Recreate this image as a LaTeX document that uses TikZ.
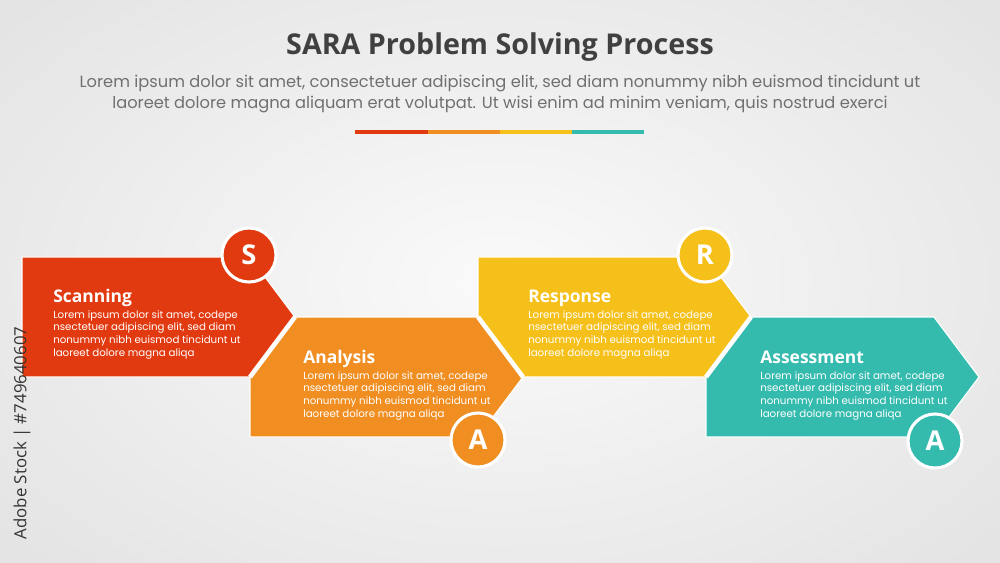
\documentclass[tikz,border=0pt]{standalone}
\usepackage{fontspec}
\setmainfont{Poppins}
\newfontfamily\headfont{Open Sans}
\definecolor{cRed}{RGB}{226,58,16}
\definecolor{cOrange}{RGB}{240,142,34}
\definecolor{cYellow}{RGB}{246,192,27}
\definecolor{cTeal}{RGB}{53,186,174}
\definecolor{titlegray}{RGB}{64,64,64}
\definecolor{subgray}{RGB}{112,112,112}
\definecolor{bgin}{RGB}{250,250,250}
\definecolor{bgout}{RGB}{228,228,228}
\tikzset{
  shapebox/.style={fill=#1, draw=white, line width=0.9pt, line join=miter},
  gapline/.style={draw=white, line width=3.4pt},
  badge/.style={circle, fill=#1, draw=white, line width=2.3pt, minimum size=40.5pt, inner sep=0pt,
    text=white, font=\headfont\bfseries\fontsize{20.5}{21}\selectfont},
  headtxt/.style={anchor=base west, inner sep=0pt, text=white, font=\headfont\bfseries\fontsize{13.1}{14}\selectfont},
  bodytxt/.style={anchor=base west, inner sep=0pt, align=left, text=white, font=\fontsize{7.7}{9.45}\selectfont},
  barseg/.style={draw=#1, line width=3pt},
}
\begin{document}
\begin{tikzpicture}[x=0.75pt, y=-0.75pt]
\useasboundingbox (0,0) rectangle (1000,563);
\shade[inner color=bgin, outer color=bgout] (-150,-120) rectangle (1150,683);
% title
\node[inner sep=0pt, anchor=base, text=titlegray, font=\headfont\bfseries\fontsize{21.5}{24}\selectfont] (title) at (500,55) {SARA Problem Solving Process};
\node[inner sep=0pt, anchor=base, align=center, text=subgray, font=\fontsize{12.2}{15.4}\selectfont] (subtitle) at (500,108.5)
  {Lorem ipsum dolor sit amet, consectetuer adipiscing elit, sed diam nonummy nibh euismod tincidunt ut\\
   laoreet dolore magna aliquam erat volutpat. Ut wisi enim ad minim veniam, quis nostrud exerci};
% color bar
\coordinate (b0) at (355,132);
\coordinate (b1) at (428,132);
\coordinate (b2) at (500,132);
\coordinate (b3) at (572,132);
\coordinate (b4) at (644,132);
\draw[barseg=cRed] (b0) -- (b1);
\draw[barseg=cOrange] (b1) -- (b2);
\draw[barseg=cYellow] (b2) -- (b3);
\draw[barseg=cTeal] (b3) -- (b4);
% shapes
\filldraw[shapebox=cRed] (22,257) -- (250,257) -- (295,317) -- (250,377) -- (22,377) -- cycle;
\filldraw[shapebox=cOrange] (250,437) -- (250,377) -- (295,317) -- (478,317) -- (523,377) -- (478,437) -- cycle;
\filldraw[shapebox=cYellow] (478,257) -- (706,257) -- (751,317) -- (706,377) -- (523,377) -- (478,317) -- cycle;
\filldraw[shapebox=cTeal] (706,437) -- (706,377) -- (751,317) -- (934,317) -- (979,377) -- (934,437) -- cycle;
% white gaps between neighbouring shapes
\coordinate (g1a) at (250,377); \coordinate (g1b) at (295,317);
\coordinate (g2a) at (478,317); \coordinate (g2b) at (523,377);
\coordinate (g3a) at (706,377); \coordinate (g3b) at (751,317);
\draw[gapline] (g1a) -- (g1b);
\draw[gapline] (g2a) -- (g2b);
\draw[gapline] (g3a) -- (g3b);
% badges
\node[badge=cRed] (bS) at (249,255) {S};
\node[badge=cYellow] (bR) at (705,255) {R};
\node[badge=cOrange] (bA1) at (478,440) {A};
\node[badge=cTeal] (bA2) at (935,441) {A};
% texts
\node[headtxt] (h1) at (53,302) {Scanning};
\node[bodytxt] (t1) at (53,356) {Lorem ipsum dolor sit amet, codepe\\nsectetuer adipiscing elit, sed diam\\nonummy nibh euismod tincidunt ut\\laoreet dolore magna aliqa};
\node[headtxt] (h2) at (303,363) {Analysis};
\node[bodytxt] (t2) at (303,417) {Lorem ipsum dolor sit amet, codepe\\nsectetuer adipiscing elit, sed diam\\nonummy nibh euismod tincidunt ut\\laoreet dolore magna aliqa};
\node[headtxt] (h3) at (528,302) {Response};
\node[bodytxt] (t3) at (528,356) {Lorem ipsum dolor sit amet, codepe\\nsectetuer adipiscing elit, sed diam\\nonummy nibh euismod tincidunt ut\\laoreet dolore magna aliqa};
\node[headtxt] (h4) at (760,363) {Assessment};
\node[bodytxt] (t4) at (760,417) {Lorem ipsum dolor sit amet, codepe\\nsectetuer adipiscing elit, sed diam\\nonummy nibh euismod tincidunt ut\\laoreet dolore magna aliqa};
% watermark
\node[rotate=90, inner sep=0pt, text=black!80, font=\headfont\fontsize{12.6}{13}\selectfont] (wm) at (22,433) {Adobe Stock | \#749640607};
\end{tikzpicture}
\end{document}
